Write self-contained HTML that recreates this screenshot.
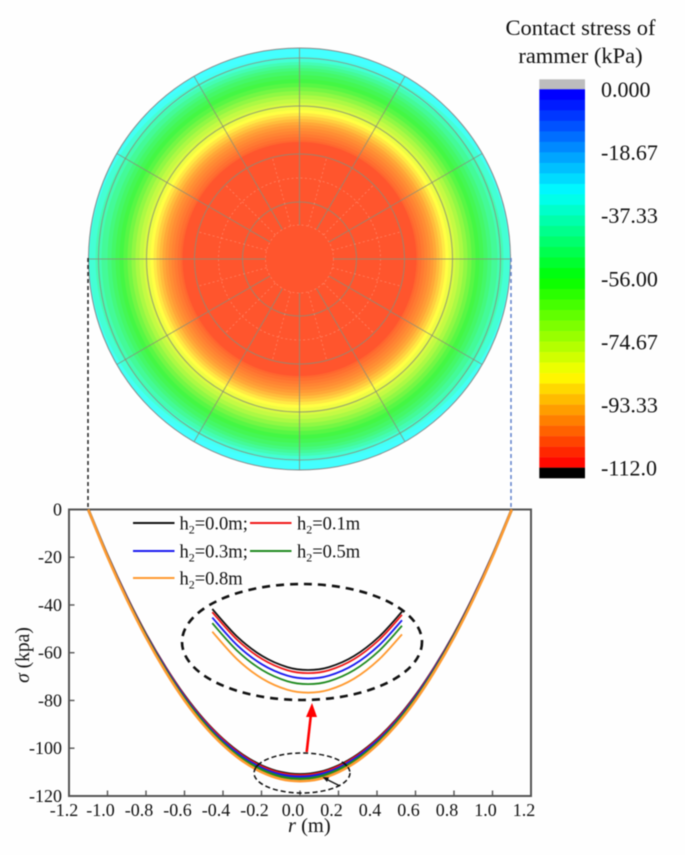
<!DOCTYPE html>
<html lang="en">
<head>
<meta charset="utf-8">
<title>Contact stress of rammer</title>
<style>
html,body{margin:0;padding:0;background:#fff;}
svg{display:block;font-family:"Liberation Serif",serif;fill:#111;filter:blur(0.45px);}
</style>
</head>
<body>
<svg id="fig" xmlns="http://www.w3.org/2000/svg" width="685" height="855" viewBox="0 0 685 855">
  <rect x="0" y="0" width="685" height="855" fill="#fefefe"/>
  <defs>
    <clipPath id="discClip"><circle cx="299.5" cy="259" r="211"/></clipPath>
  </defs>
  <g id="disc" clip-path="url(#discClip)"></g>
  <g id="discGrid"></g>
  <circle cx="299.5" cy="259" r="211" fill="none" stroke="#8a8a8a" stroke-width="1"/>

  <text x="580.5" y="35" font-size="22.5" text-anchor="middle">Contact stress of</text>
  <text x="580.5" y="63" font-size="22.5" text-anchor="middle">rammer (kPa)</text>
  <g id="colorbar"></g>

  <line x1="88" y1="258" x2="88" y2="509" stroke="#222" stroke-width="1.5" stroke-dasharray="4 3"/>
  <line x1="511" y1="258" x2="511" y2="509" stroke="#5f80cc" stroke-width="1.5" stroke-dasharray="4 3"/>

  <g id="axes"></g>
  <g id="series"></g>
  <g id="inset"></g>

  <ellipse cx="302" cy="642" rx="120" ry="58" fill="none" stroke="#111" stroke-width="2.6" stroke-dasharray="8 6"/>
  <ellipse cx="302" cy="773" rx="48" ry="20" fill="none" stroke="#111" stroke-width="1.5" stroke-dasharray="5 3"/>
  <line x1="306.7" y1="752" x2="311" y2="714" stroke="#f00" stroke-width="2.6"/>
  <polygon points="312,703 317,717 306,717" fill="#f00"/>
  <line x1="340" y1="786" x2="327" y2="779.5" stroke="#111" stroke-width="1.3"/>
  <polygon points="322.5,777 329,777.5 327,782" fill="#111"/>
  <line x1="255.5" y1="767.5" x2="259.5" y2="763.5" stroke="#111" stroke-width="1.6"/>
  <line x1="343" y1="762.5" x2="347" y2="766" stroke="#111" stroke-width="1.6"/>

  <g id="legend"></g>
</svg>

<script>
// ---- Chart data ----
const radiusValues = [-1.1,-1.0,-0.9,-0.8,-0.7,-0.6,-0.5,-0.4,-0.3,-0.2,-0.1,0,0.1,0.2,0.3,0.4,0.5,0.6,0.7,0.8,0.9,1.0,1.1];
const stressH00 = [0,-19.3,-36.7,-52.3,-66.0,-78.0,-88.1,-96.3,-102.7,-107.3,-110.1,-111.0,-110.1,-107.3,-102.7,-96.3,-88.1,-78.0,-66.0,-52.3,-36.7,-19.3,0];
const stressH01 = [0,-19.4,-36.8,-52.5,-66.2,-78.3,-88.4,-96.6,-103.1,-107.7,-110.5,-111.4,-110.5,-107.7,-103.1,-96.6,-88.4,-78.3,-66.2,-52.5,-36.8,-19.4,0];
const stressH03 = [0,-19.5,-37.0,-52.8,-66.6,-78.7,-88.9,-97.2,-103.6,-108.3,-111.1,-112.0,-111.1,-108.3,-103.6,-97.2,-88.9,-78.7,-66.6,-52.8,-37.0,-19.5,0];
const stressH05 = [0,-19.6,-37.3,-53.1,-67.1,-79.3,-89.5,-97.9,-104.4,-109.0,-111.9,-112.8,-111.9,-109.0,-104.4,-97.9,-89.5,-79.3,-67.1,-53.1,-37.3,-19.6,0];
const stressH08 = [0,-19.8,-37.6,-53.6,-67.7,-80.0,-90.3,-98.7,-105.3,-110.0,-112.9,-113.8,-112.9,-110.0,-105.3,-98.7,-90.3,-80.0,-67.7,-53.6,-37.6,-19.8,0];

const insetRadius = [-0.22,-0.16,-0.10,-0.04,0.01,0.06,0.12,0.18,0.235];
const insetH00 = [-106.16,-108.36,-109.89,-110.77,-111.0,-110.77,-109.89,-108.36,-106.37];
const insetH01 = [-106.41,-108.61,-110.14,-111.02,-111.25,-111.02,-110.14,-108.61,-106.62];
const insetH03 = [-106.84,-109.04,-110.57,-111.45,-111.68,-111.45,-110.57,-109.04,-107.05];
const insetH05 = [-107.28,-109.48,-111.01,-111.89,-112.12,-111.89,-111.01,-109.48,-107.49];
const insetH08 = [-107.96,-110.16,-111.69,-112.57,-112.8,-112.57,-111.69,-110.16,-108.17];

const xTickLabels = ["-1.2","-1.0","-0.8","-0.6","-0.4","-0.2","0.0","0.2","0.4","0.6","0.8","1.0","1.2"];
const yTickLabels = ["0","-20","-40","-60","-80","-100","-120"];
const colorbarLabels = ["0.000","-18.67","-37.33","-56.00","-74.67","-93.33","-112.0"];
const seriesNames = ["h2-0-0m","h2-0-1m","h2-0-3m","h2-0-5m","h2-0-8m"];
const seriesColors = ["#111111","#f01818","#1a1af0","#1f8a1f","#ff9a30"];
const legendValues = ["0.0m;","0.1m","0.3m;","0.5m","0.8m"];
const mainSeries = [stressH00,stressH01,stressH03,stressH05,stressH08];
const insetSeries = [insetH00,insetH01,insetH03,insetH05,insetH08];

// Disc contour bands, outermost first
const ringRadii = [211,207,203,200,197,194,191,188,184,180,176,172,168,164,160,156,152,149,146,143,140,137,134,131,128,125,122,119,117];
const ringColors = ["#44ffff","#44ffff","#44fff4","#44ffd4","#44fcb4","#44fa98","#44f97e","#44f868","#44f754","#44f744","#58f744","#74f744","#90f844","#acf944","#c4fa44","#d8fa44","#f0fc44","#ffff44","#ffe844","#ffd040","#ffbc3c","#ffa838","#ff9a36","#ff8e34","#ff8433","#ff7a32","#ff7030","#ff662f","#ff552d"];

// ---- Helpers ----
const NS = "http://www.w3.org/2000/svg";
function make(tag, attrs, parent, text) {
  const el = document.createElementNS(NS, tag);
  for (const k in attrs) el.setAttribute(k, attrs[k]);
  if (text !== undefined) el.textContent = text;
  parent.appendChild(el);
  return el;
}
const cx = 299.5, cy = 259;
const xScale = r => 300 + r * 192.5;
const yScale = s => 509.5 - s * 2.387;
const insetX = r => 304 + r * 417;
const insetY = s => 670 + (-111 - s) * 12.6;

function smoothPath(xs, ys, fx, fy) {
  const pts = xs.map((x, i) => [fx(x), fy(ys[i])]);
  let d = "M" + pts[0][0].toFixed(2) + "," + pts[0][1].toFixed(2);
  for (let i = 0; i < pts.length - 1; i++) {
    const p0 = pts[Math.max(i - 1, 0)], p1 = pts[i], p2 = pts[i + 1], p3 = pts[Math.min(i + 2, pts.length - 1)];
    const c1x = p1[0] + (p2[0] - p0[0]) / 6, c1y = p1[1] + (p2[1] - p0[1]) / 6;
    const c2x = p2[0] - (p3[0] - p1[0]) / 6, c2y = p2[1] - (p3[1] - p1[1]) / 6;
    d += "C" + c1x.toFixed(2) + "," + c1y.toFixed(2) + " " + c2x.toFixed(2) + "," + c2y.toFixed(2) + " " + p2[0].toFixed(2) + "," + p2[1].toFixed(2);
  }
  return d;
}

// ---- Disc ----
const disc = document.getElementById("disc");
ringRadii.forEach((r, i) => {
  const stretch = r > 190 ? (r - 190) * 1.0 : 0;
  const ring = make("ellipse", {cx: cx, cy: cy, rx: r + stretch, ry: r, fill: ringColors[i]}, disc);
  
  
});

const grid = document.getElementById("discGrid");
[201, 153, 105, 57].forEach(r => {
  const c = make("circle", {cx: cx, cy: cy, r: r, fill: "none", stroke: "#8c8c78", "stroke-opacity": 0.8, "stroke-width": 1}, grid);
  
  
});
[34, 81].forEach(r => {
  const c = make("circle", {cx: cx, cy: cy, r: r, fill: "none", stroke: "#ff9e84", "stroke-opacity": 0.6, "stroke-width": 0.8, "stroke-dasharray": "2 2.5"}, grid);
  
  
});
for (let a = 0; a < 360; a += 30) {
  const t = a * Math.PI / 180;
  const s = make("line", {x1: cx + 34 * Math.cos(t), y1: cy + 34 * Math.sin(t), x2: cx + 211 * Math.cos(t), y2: cy + 211 * Math.sin(t), stroke: "#8c8c78", "stroke-opacity": 0.8, "stroke-width": 1}, grid);
  
  
  const t2 = (a + 15) * Math.PI / 180;
  const d = make("line", {x1: cx + 34 * Math.cos(t2), y1: cy + 34 * Math.sin(t2), x2: cx + 105 * Math.cos(t2), y2: cy + 105 * Math.sin(t2), stroke: "#ff9e84", "stroke-opacity": 0.6, "stroke-width": 0.8, "stroke-dasharray": "2 2.5"}, grid);
  
  
}

// ---- Colorbar ----
const colorbar = document.getElementById("colorbar");
const cbStops = [[0,0,0,255],[9.3,0,255,255],[17.5,0,255,0],[26.7,255,255,0],[35.3,255,0,0]];
function cbColor(i) {
  for (let k = 0; k < cbStops.length - 1; k++) {
    const a = cbStops[k], b = cbStops[k + 1];
    if (i <= b[0]) {
      const f = (i - a[0]) / (b[0] - a[0]);
      return "rgb(" + [1,2,3].map(j => Math.round(a[j] + (b[j] - a[j]) * f)).join(",") + ")";
    }
  }
  return "rgb(255,0,0)";
}
const cbTop = make("rect", {x: 539.3, y: 79.3, width: 45.7, height: 10.2, fill: "#bdbdbd"}, colorbar);


for (let i = 0; i < 36; i++) {
  const b = make("rect", {x: 539.3, y: 89.3 + i * 10.51, width: 45.7, height: 10.7, fill: cbColor(i)}, colorbar);
  
  
}
const cbBottom = make("rect", {x: 539.3, y: 467.7, width: 45.7, height: 10.6, fill: "#000"}, colorbar);


colorbarLabels.forEach((t, i) => {
  const l = make("text", {x: 601, y: 97 + i * 63.1, "font-size": 22}, colorbar, t);
  
  
});

// ---- Axes ----
const axes = document.getElementById("axes");
const frame = make("rect", {x: 69, y: 509.5, width: 462, height: 286.5, fill: "none", stroke: "#555", "stroke-width": 2}, axes);


xTickLabels.forEach((t, i) => {
  const x = xScale(parseFloat(t));
  const tick = make("line", {x1: x, y1: 796, x2: x, y2: 790.5, stroke: "#555", "stroke-width": 1.4}, axes);
  
  
  const l = make("text", {x: x - (i === 0 ? 5 : 7), y: 816, "font-size": 18, "text-anchor": "middle"}, axes, t);
  
  
});
yTickLabels.forEach(t => {
  const y = yScale(parseFloat(t));
  const tick = make("line", {x1: 69, y1: y, x2: 74.5, y2: y, stroke: "#555", "stroke-width": 1.4}, axes);
  
  
  const l = make("text", {x: 62, y: y + 6, "font-size": 18, "text-anchor": "end"}, axes, t);
  
  
});
const xTitle = make("text", {x: 288, y: 832, "font-size": 20.5}, axes);


make("tspan", {"font-style": "italic"}, xTitle, "r");
make("tspan", {}, xTitle, " (m)");
const yTitle = make("text", {transform: "translate(29 655) rotate(-90)", "font-size": 19.5, "text-anchor": "middle"}, axes);


make("tspan", {"font-style": "italic"}, yTitle, "σ");
make("tspan", {}, yTitle, " (kpa)");

// ---- Series ----
const seriesGroup = document.getElementById("series");
mainSeries.forEach((vals, i) => {
  const p = make("path", {d: smoothPath(radiusValues, vals, xScale, yScale), fill: "none", stroke: seriesColors[i], "stroke-width": 2.6}, seriesGroup);
  
  
});
const insetGroup = document.getElementById("inset");
insetSeries.forEach((vals, i) => {
  const p = make("path", {d: smoothPath(insetRadius, vals, insetX, insetY), fill: "none", stroke: seriesColors[i], "stroke-width": 1.8}, insetGroup);
  
  
});

// ---- Legend ----
const legend = document.getElementById("legend");
const legendCols = [[133,179.5],[250,297],[133,179.5],[250,297],[133,179.5]];
const legendRows = [523,523,551,551,578];
legendValues.forEach((v, i) => {
  const y = legendRows[i];
  const ln = make("line", {x1: legendCols[i][0], y1: y, x2: legendCols[i][0] + 41.5, y2: y, stroke: seriesColors[i], "stroke-width": 2}, legend);
  
  
  const t = make("text", {x: legendCols[i][1], y: y + 6.7, "font-size": 18.5}, legend);
  
  
  make("tspan", {}, t, "h");
  make("tspan", {dy: 4, "font-size": 12}, t, "2");
  make("tspan", {dy: -4}, t, "=" + v);
});
</script>
</body>
</html>
